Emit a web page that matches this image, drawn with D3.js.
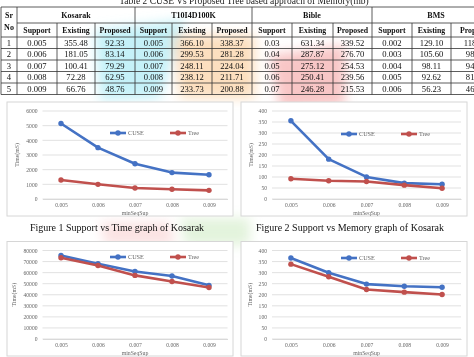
<!DOCTYPE html>
<html><head><meta charset="utf-8">
<script src="https://cdn.jsdelivr.net/npm/d3@7"></script>
<style>body{margin:0;background:#fff;overflow:hidden}svg{display:block}</style>
</head><body><div id="c"></div>
<script>
// ---------- DATA ----------
const tableTitle = "Table 2 CUSE Vs Proposed Tree based approach of Memory(mb)";
const datasets = ["Kosarak", "T10I4D100K", "Bible", "BMS"];
const subHeaders = ["Support", "Existing", "Proposed"];
const srNo = [1, 2, 3, 4, 5];
const kosarakSupport = ["0.005", "0.006", "0.007", "0.008", "0.009"];
const kosarakExisting = [355.48, 181.05, 100.41, 72.28, 66.76];
const kosarakProposed = [92.33, 83.14, 79.29, 62.95, 48.76];
const t10Support = ["0.005", "0.006", "0.007", "0.008", "0.009"];
const t10Existing = [366.10, 299.53, 248.11, 238.12, 233.73];
const t10Proposed = [338.37, 281.28, 224.04, 211.71, 200.88];
const bibleSupport = ["0.03", "0.04", "0.05", "0.06", "0.07"];
const bibleExisting = [631.34, 287.87, 275.12, 250.41, 246.28];
const bibleProposed = [339.52, 276.70, 254.53, 239.56, 215.53];
const bmsSupport = ["0.002", "0.003", "0.004", "0.005", "0.006"];
const bmsExisting = [129.10, 105.60, 98.11, 92.62, 56.23];
const bmsProposed = [118.45, 98.05, 94.15, 81.25, 46.55];

const minSeqSup = ["0.005", "0.006", "0.007", "0.008", "0.009"];
const seriesNames = ["CUSE", "Tree"];
const fig1Cuse = [5150, 3500, 2400, 1800, 1650];
const fig1Tree = [1300, 1000, 750, 660, 590];
const fig1Ticks = [0, 1000, 2000, 3000, 4000, 5000, 6000];
const fig2Cuse = kosarakExisting;
const fig2Tree = kosarakProposed;
const fig2Ticks = [0, 50, 100, 150, 200, 250, 300, 350, 400];
const fig3Cuse = [75500, 68000, 61000, 57000, 48500];
const fig3Tree = [73500, 66500, 57500, 52000, 46500];
const fig3Ticks = [0, 10000, 20000, 30000, 40000, 50000, 60000, 70000, 80000];
const fig4Cuse = t10Existing;
const fig4Tree = t10Proposed;
const fig4Ticks = [0, 50, 100, 150, 200, 250, 300, 350, 400];
const yTitle = "Time(mS)";
const xTitle = "minSeqSup";
const captions = ["Figure 1 Support vs Time graph of Kosarak", "Figure 2 Support vs Memory graph of Kosarak"];

// ---------- DRAW ----------
const W = 474, H = 357;
const serif = "'Liberation Serif','DejaVu Serif',serif";
const svg = d3.select("#c").append("svg").attr("width", W).attr("height", H);

// faint watermark tints
const defs = svg.append("defs");
defs.append("filter").attr("id", "blur").append("feGaussianBlur").attr("stdDeviation", 6);
const wm = svg.append("g").attr("filter", "url(#blur)");
wm.append("path").attr("d", "M95,30 L185,20 L160,98 L100,100 Z").attr("fill", "#7fe0f0").attr("opacity", 0.45);
wm.append("path").attr("d", "M172,35 L255,35 L255,98 L180,98 Z").attr("fill", "#f9c080").attr("opacity", 0.5);
wm.append("path").attr("d", "M270,55 L345,45 L345,105 L280,108 Z").attr("fill", "#f08080").attr("opacity", 0.45);
wm.append("path").attr("d", "M100,222 L170,222 L175,245 L105,245 Z").attr("fill", "#f4b0b0").attr("opacity", 0.35);
wm.append("path").attr("d", "M180,218 L250,218 L250,245 L185,245 Z").attr("fill", "#b8e0a8").attr("opacity", 0.4);

// ---------- TABLE ----------
const colX = [1, 17, 57, 95, 135, 172, 212, 252, 292, 333, 372, 412, 451, 500];
const rowY = [7, 23, 37, 48.5, 60, 71.5, 83, 94.5];
const tg = svg.append("g");
tg.append("text").attr("x", 244).attr("y", 3.5).attr("text-anchor", "middle")
  .attr("font-family", serif).attr("font-size", 9.5).attr("fill", "#222").text(tableTitle);
const lineC = "#333";
rowY.forEach((y, i) => {
  const x0 = (i === 1) ? colX[1] : colX[0];
  tg.append("line").attr("x1", x0).attr("x2", W + 2).attr("y1", y).attr("y2", y)
    .attr("stroke", lineC).attr("stroke-width", 0.8);
});
colX.forEach((x, i) => {
  const isGroup = (i === 0 || i === 1 || (i - 1) % 3 === 0);
  const y0 = isGroup ? rowY[0] : rowY[1];
  tg.append("line").attr("x1", x).attr("x2", x).attr("y1", y0).attr("y2", rowY[7])
    .attr("stroke", lineC).attr("stroke-width", 0.8);
});
const txt = (x, y, s, bold, size) => tg.append("text").attr("x", x).attr("y", y)
  .attr("text-anchor", "middle").attr("font-family", serif).attr("font-size", size || 8.6)
  .attr("font-weight", bold ? "bold" : "normal").attr("fill", "#111").text(s);
txt((colX[0] + colX[1]) / 2, 18, "Sr", true, 8);
txt((colX[0] + colX[1]) / 2, 30, "No", true, 8);
datasets.forEach((d, k) => {
  txt((colX[1 + 3 * k] + colX[4 + 3 * k]) / 2, 18, d, true, 8);
  subHeaders.forEach((s, j) => txt((colX[1 + 3 * k + j] + colX[2 + 3 * k + j]) / 2, 33, s, true, 7.8));
});
const cols = [
  [kosarakSupport, kosarakExisting, kosarakProposed],
  [t10Support, t10Existing, t10Proposed],
  [bibleSupport, bibleExisting, bibleProposed],
  [bmsSupport, bmsExisting, bmsProposed]
];
srNo.forEach((n, r) => {
  const yc = (rowY[2 + r] + rowY[3 + r]) / 2 + 3;
  txt((colX[0] + colX[1]) / 2, yc, n, false);
  cols.forEach((grp, k) => grp.forEach((arr, j) => {
    const v = arr[r];
    txt((colX[1 + 3 * k + j] + colX[2 + 3 * k + j]) / 2, yc, typeof v === "number" ? v.toFixed(2) : v, false);
  }));
});

// ---------- CHARTS ----------
const blue = "#4472c4", red = "#c0504d";
function chart(cfg) {
  const g = svg.append("g");
  g.append("rect").attr("x", cfg.fx0).attr("y", cfg.fy0).attr("width", cfg.fx1 - cfg.fx0)
    .attr("height", cfg.fy1 - cfg.fy0).attr("fill", "#fff").attr("stroke", "#d6d6d6").attr("stroke-width", 1);
  const x = d3.scalePoint().domain(minSeqSup).range([cfg.px0, cfg.px1]).padding(0.5);
  const y = d3.scaleLinear().domain([0, d3.max(cfg.ticks)]).range([cfg.py0, cfg.py1]);
  g.append("g").selectAll("line").data(cfg.ticks).join("line")
    .attr("x1", cfg.px0).attr("x2", cfg.px1).attr("y1", d => y(d)).attr("y2", d => y(d))
    .attr("stroke", "#d9d9d9").attr("stroke-width", 0.8);
  const ya = g.append("g").attr("transform", `translate(${cfg.px0},0)`)
    .call(d3.axisLeft(y).tickValues(cfg.ticks).tickFormat(d3.format("d")).tickSize(0).tickPadding(5));
  ya.select(".domain").remove();
  ya.selectAll("text").attr("font-family", serif).attr("font-size", 5.6).attr("fill", "#666");
  const xa = g.append("g").attr("transform", `translate(0,${cfg.py0})`)
    .call(d3.axisBottom(x).tickSize(0).tickPadding(4));
  xa.select(".domain").attr("stroke", "#d9d9d9");
  xa.selectAll("text").attr("font-family", serif).attr("font-size", 5.6).attr("fill", "#666");
  g.append("text").attr("x", (cfg.px0 + cfg.px1) / 2).attr("y", cfg.py0 + 16)
    .attr("text-anchor", "middle").attr("font-family", serif).attr("font-size", 5.8).attr("fill", "#666").text(xTitle);
  g.append("text").attr("transform", `translate(${cfg.ytx},${(cfg.py0 + cfg.py1) / 2}) rotate(-90)`)
    .attr("text-anchor", "middle").attr("font-family", serif).attr("font-size", 5.8).attr("fill", "#666").text(yTitle);
  const line = d3.line().x((d, i) => x(minSeqSup[i])).y(d => y(d));
  [[cfg.cuse, blue], [cfg.tree, red]].forEach(([vals, col]) => {
    g.append("path").datum(vals).attr("d", line).attr("fill", "none").attr("stroke", col)
      .attr("stroke-width", 2.6).attr("stroke-linejoin", "round");
    g.append("g").selectAll("circle").data(vals).join("circle")
      .attr("cx", (d, i) => x(minSeqSup[i])).attr("cy", d => y(d)).attr("r", 2.7).attr("fill", col);
  });
  seriesNames.forEach((nm, i) => {
    const lx = cfg.legX[i], col = i === 0 ? blue : red;
    g.append("line").attr("x1", lx).attr("x2", lx + 16).attr("y1", cfg.legY).attr("y2", cfg.legY)
      .attr("stroke", col).attr("stroke-width", 2.6);
    g.append("circle").attr("cx", lx + 8).attr("cy", cfg.legY).attr("r", 2.7).attr("fill", col);
    g.append("text").attr("x", lx + 18).attr("y", cfg.legY + 2).attr("font-family", serif)
      .attr("font-size", 6.2).attr("fill", "#666").text(nm);
  });
  if (cfg.caption) {
    g.append("text").attr("x", cfg.capX).attr("y", cfg.capY).attr("text-anchor", "middle")
      .attr("font-family", serif).attr("font-size", 10).attr("fill", "#111").text(cfg.caption);
  }
}
chart({fx0: 7, fx1: 233, fy0: 102, fy1: 216, px0: 42.5, px1: 227.5, py0: 199, py1: 111,
  ticks: fig1Ticks, cuse: fig1Cuse, tree: fig1Tree, ytx: 19, legX: [110, 170], legY: 133,
  caption: captions[0], capX: 117, capY: 231});
chart({fx0: 241, fx1: 467, fy0: 102, fy1: 216, px0: 272, px1: 461, py0: 199, py1: 111,
  ticks: fig2Ticks, cuse: fig2Cuse, tree: fig2Tree, ytx: 253, legX: [341, 401], legY: 134,
  caption: captions[1], capX: 350, capY: 231});
chart({fx0: 7, fx1: 233, fy0: 241.5, fy1: 356, px0: 42.5, px1: 227.5, py0: 339, py1: 250.5,
  ticks: fig3Ticks, cuse: fig3Cuse, tree: fig3Tree, ytx: 16, legX: [110, 170], legY: 257});
chart({fx0: 241, fx1: 467, fy0: 241.5, fy1: 356, px0: 272, px1: 461, py0: 339, py1: 250.5,
  ticks: fig4Ticks, cuse: fig4Cuse, tree: fig4Tree, ytx: 252, legX: [341, 401], legY: 258});
</script>
</body></html>
